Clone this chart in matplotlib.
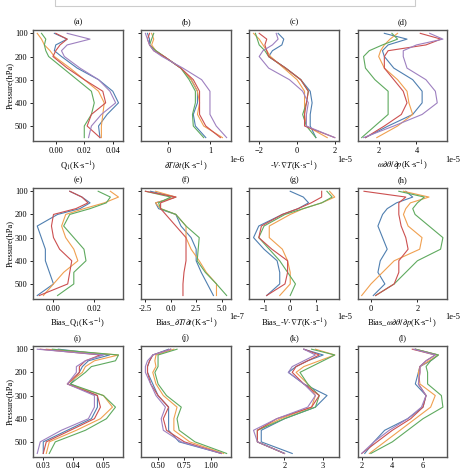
import matplotlib
matplotlib.use("Agg")
import matplotlib.pyplot as plt
import numpy as np

plt.rcParams['font.family'] = ['Liberation Serif', 'DejaVu Serif']
plt.rcParams['font.size'] = 6
plt.rcParams['mathtext.fontset'] = 'stix'

levels = [100,125,150,175,200,250,300,350,400,450,500,550]
colors = ['#4f7fb0', '#f0a050', '#5faa5f', '#cc5050', '#9e80c0']

a = dict(
 blue=[-0.001,0.008,0.0,-0.001,0.004,0.015,0.03,0.04,0.044,0.036,0.03,0.031],
 orange=[-0.013,-0.01,-0.008,-0.004,-0.001,0.01,0.02,0.03,0.034,0.033,0.032,0.032],
 green=[-0.01,-0.007,-0.008,-0.007,-0.005,0.005,0.015,0.025,0.027,0.025,0.02,0.02],
 red=[0.0,0.008,0.003,0.0,-0.002,0.008,0.02,0.033,0.035,0.025,0.022,0.031],
 purple=[0.008,0.024,0.008,0.004,0.006,0.017,0.03,0.038,0.042,0.032,0.025,0.023])
b = dict(
 blue=[-0.5,-0.45,-0.45,-0.3,-0.1,0.3,0.55,0.7,0.7,0.6,0.65,0.9],
 orange=[-0.4,-0.35,-0.4,-0.3,-0.1,0.3,0.55,0.7,0.75,0.7,0.85,1.3],
 green=[-0.35,-0.4,-0.45,-0.3,-0.1,0.3,0.5,0.65,0.65,0.58,0.6,0.85],
 red=[-0.45,-0.5,-0.45,-0.35,-0.1,0.3,0.6,0.75,0.75,0.75,0.9,1.25],
 purple=[-0.55,-0.5,-0.45,-0.35,-0.15,0.35,0.8,1.0,1.0,1.0,1.15,1.4])
c = dict(
 blue=[-1.0,-0.7,-0.8,-1.3,-1.5,-0.6,0.2,0.7,0.8,0.7,0.7,1.0],
 orange=[-2.3,-2.0,-1.8,-1.6,-1.4,-0.7,0.0,0.4,0.4,0.4,0.5,1.6],
 green=[-2.2,-2.1,-2.0,-1.7,-1.5,-0.6,0.2,0.6,0.5,0.3,0.5,1.0],
 red=[-2.0,-1.6,-1.7,-1.6,-1.5,-0.6,0.2,0.6,0.5,0.4,0.4,2.0],
 purple=[-1.1,-1.0,-1.3,-1.8,-2.0,-1.5,-0.4,0.3,0.6,0.5,0.5,2.0])
d = dict(
 blue=[2.3,3.5,2.5,2.2,2.3,2.8,3.8,4.3,4.3,3.8,2.5,1.3],
 orange=[3.0,2.6,2.3,2.1,2.0,2.3,3.0,3.5,3.6,3.8,3.0,1.9],
 green=[2.7,3.0,2.2,1.5,1.2,1.3,1.8,2.5,2.5,2.5,1.8,1.1],
 red=[4.2,5.3,4.5,2.5,2.3,2.3,2.8,3.3,3.5,3.2,2.3,1.3],
 purple=[4.7,5.4,4.0,3.3,3.3,3.5,4.5,5.0,5.1,4.3,2.8,1.2])
e = dict(
 blue=[0.008,0.014,0.018,0.013,0.002,-0.008,-0.006,-0.004,-0.004,-0.002,0.0,-0.008],
 orange=[0.028,0.032,0.025,0.015,0.006,0.004,0.006,0.01,0.012,0.005,0.0,-0.005],
 green=[0.022,0.028,0.026,0.018,0.008,0.005,0.01,0.015,0.016,0.01,0.01,0.002],
 red=[0.008,0.014,0.017,0.011,0.0,-0.001,0.0,0.003,0.009,0.008,0.007,-0.007])
f = dict(
 blue=[-2.0,0.5,-1.5,-1.2,0.5,1.0,2.0,2.5,2.5,3.0,3.6,4.2],
 orange=[-1.5,0.5,-1.5,-1.0,0.5,1.5,1.5,2.0,2.8,3.5,4.5,4.5],
 green=[-2.5,0.0,-1.2,-1.0,0.5,1.5,2.8,2.7,2.6,3.4,4.5,5.5],
 red=[-2.5,0.5,-1.0,-1.0,-0.5,0.5,1.5,1.5,1.5,1.3,1.2,1.2])
g = dict(
 blue=[0.0,0.5,0.7,0.3,-0.3,-1.2,-1.4,-1.0,-0.5,-0.4,-0.4,-0.9],
 orange=[1.5,1.7,1.2,0.5,0.0,-0.8,-0.8,-0.3,-0.1,0.0,0.0,-0.4],
 green=[1.4,1.6,1.2,0.5,-0.2,-1.0,-1.2,-0.8,-0.4,-0.1,0.2,0.0],
 red=[1.2,1.2,0.8,0.3,-0.3,-1.1,-1.2,-0.7,-0.1,-0.1,-0.2,-0.9])
h = dict(
 blue=[1.5,1.8,1.1,0.7,0.5,0.3,0.5,0.7,0.4,0.3,0.6,0.1],
 orange=[1.4,2.5,1.7,1.5,1.4,1.6,2.2,2.1,1.0,0.5,0.0,-0.4],
 green=[1.2,2.3,2.0,1.8,1.9,2.5,3.1,3.0,2.0,1.5,1.0,0.2],
 red=[-0.3,1.5,1.2,1.2,1.2,1.3,1.5,1.6,1.2,1.2,1.0,0.2])
i_ = dict(
 blue=[0.035,0.052,0.045,0.043,0.042,0.039,0.048,0.048,0.046,0.038,0.030,0.030],
 orange=[0.031,0.055,0.047,0.044,0.043,0.038,0.05,0.053,0.049,0.041,0.032,0.031],
 green=[0.033,0.055,0.054,0.046,0.044,0.039,0.05,0.054,0.051,0.044,0.034,0.032],
 red=[0.029,0.049,0.044,0.042,0.042,0.038,0.048,0.049,0.047,0.039,0.031,0.03],
 purple=[0.028,0.05,0.044,0.041,0.041,0.038,0.047,0.047,0.045,0.036,0.029,0.028])
j = dict(
 blue=[0.6,0.45,0.42,0.4,0.4,0.45,0.5,0.6,0.6,0.6,0.7,1.1],
 orange=[0.65,0.48,0.47,0.48,0.45,0.48,0.55,0.68,0.65,0.65,0.8,1.12],
 green=[0.68,0.5,0.5,0.5,0.47,0.5,0.58,0.72,0.68,0.7,0.85,1.15],
 red=[0.62,0.45,0.42,0.4,0.4,0.43,0.5,0.6,0.55,0.58,0.75,1.1],
 purple=[0.62,0.45,0.4,0.38,0.38,0.43,0.48,0.57,0.53,0.55,0.72,1.1])
k = dict(
 blue=[2.5,3.0,2.6,2.3,2.1,2.5,3.1,2.8,2.0,1.4,1.4,2.2],
 orange=[2.8,3.3,2.9,2.5,2.3,2.6,2.8,2.7,1.9,1.3,1.3,2.0],
 green=[2.7,3.3,3.0,2.7,2.4,2.6,2.9,2.8,2.0,1.3,1.3,2.0],
 red=[2.5,2.9,2.6,2.3,2.2,2.5,2.9,2.7,1.8,1.3,1.3,2.0],
 purple=[2.5,2.8,2.5,2.2,2.1,2.5,2.8,2.6,1.8,1.2,1.3,2.0])
l = dict(
 blue=[5.5,7.0,6.5,5.8,5.7,5.5,6.2,6.0,5.0,3.5,2.8,2.2],
 orange=[5.5,7.0,6.4,5.8,5.7,5.8,6.8,6.5,5.5,4.5,3.5,2.5],
 green=[5.5,7.0,6.5,6.2,6.3,6.3,7.2,7.3,6.0,5.0,4.0,2.6],
 red=[5.3,6.8,6.2,5.8,5.8,5.7,6.2,6.0,5.2,4.0,3.0,2.0],
 purple=[5.4,6.8,6.2,5.8,5.8,5.7,6.2,5.9,5.0,3.8,2.8,2.0])

panels = [
 ('(a)', a, r'Q$_1$(K$\cdot$s$^{-1}$)', None),
 ('(b)', b, r'$\partial T/\partial t$(K$\cdot$s$^{-1}$)', '1e-6'),
 ('(c)', c, r'-$V$$\cdot\nabla T$(K$\cdot$s$^{-1}$)', '1e-5'),
 ('(d)', d, r'$\omega\partial\theta/\partial p$(K$\cdot$s$^{-1}$)', '1e-5'),
 ('(e)', e, r'Bias_Q$_1$(K$\cdot$s$^{-1}$)', None),
 ('(f)', f, r'Bias_$\partial T/\partial t$(K$\cdot$s$^{-1}$)', '1e-7'),
 ('(g)', g, r'Bias_-$V$$\cdot\nabla T$(K$\cdot$s$^{-1}$)', '1e-5'),
 ('(h)', h, r'Bias_$\omega\partial\theta/\partial p$(K$\cdot$s$^{-1}$)', '1e-5'),
 ('(i)', i_, None, None),
 ('(j)', j, None, None),
 ('(k)', k, None, None),
 ('(l)', l, None, None),
]
order = ['blue', 'orange', 'green', 'red', 'purple']

fig, axes = plt.subplots(3, 4, figsize=(4.74, 4.74), dpi=100)
fig.subplots_adjust(left=0.07, right=0.943, top=0.937, bottom=0.036, hspace=0.42, wspace=0.21)
for ax, (title, data, xlabel, off) in zip(axes.flat, panels):
    for ci, name in enumerate(order):
        if name in data:
            ax.plot(data[name], levels, color=colors[ci], lw=0.8)
    ax.set_ylim(565, 85)
    ax.set_yticks([100, 200, 300, 400, 500])
    ax.set_title(title, fontsize=6, pad=4)
    if xlabel:
        ax.set_xlabel(xlabel, fontsize=6, labelpad=3)
    if off:
        ax.text(0.98, -0.13, off, transform=ax.transAxes, ha='left', va='top', fontsize=6)
    ax.tick_params(labelsize=6, length=2, width=0.6, pad=2)
    for s in ax.spines.values():
        s.set_color('#555555'); s.set_linewidth(1.0)
for r in range(3):
    axes[r, 0].set_ylabel('Pressure(hPa)', fontsize=6, labelpad=1)
    for cc in range(1, 4):
        axes[r, cc].set_yticklabels([])

axes[0,0].set_xticks([0.0, 0.02, 0.04]); axes[0,0].set_xticklabels(['0.00','0.02','0.04'])
axes[0,1].set_xticks([0, 1])
axes[0,2].set_xticks([-2, 0, 2])
axes[0,3].set_xticks([2, 4])
axes[1,0].set_xticks([0.0, 0.02]); axes[1,0].set_xticklabels(['0.00','0.02'])
axes[1,1].set_xticks([-2.5, 0, 2.5, 5.0]); axes[1,1].set_xticklabels(['-2.5','0.0','2.5','5.0'])
axes[1,2].set_xticks([-1, 0, 1])
axes[1,3].set_xticks([0, 2])
axes[2,0].set_xticks([0.03, 0.04, 0.05])
axes[2,1].set_xticks([0.5, 0.75, 1.0]); axes[2,1].set_xticklabels(['0.50','0.75','1.00'])
axes[2,2].set_xticks([2, 3])
axes[2,3].set_xticks([2, 4, 6])

fig.patches.append(plt.Rectangle((0.115, 0.987), 0.76, 0.05, transform=fig.transFigure,
                                 fill=False, edgecolor='#cccccc', lw=0.8))
fig.savefig('out.png', dpi=100)
